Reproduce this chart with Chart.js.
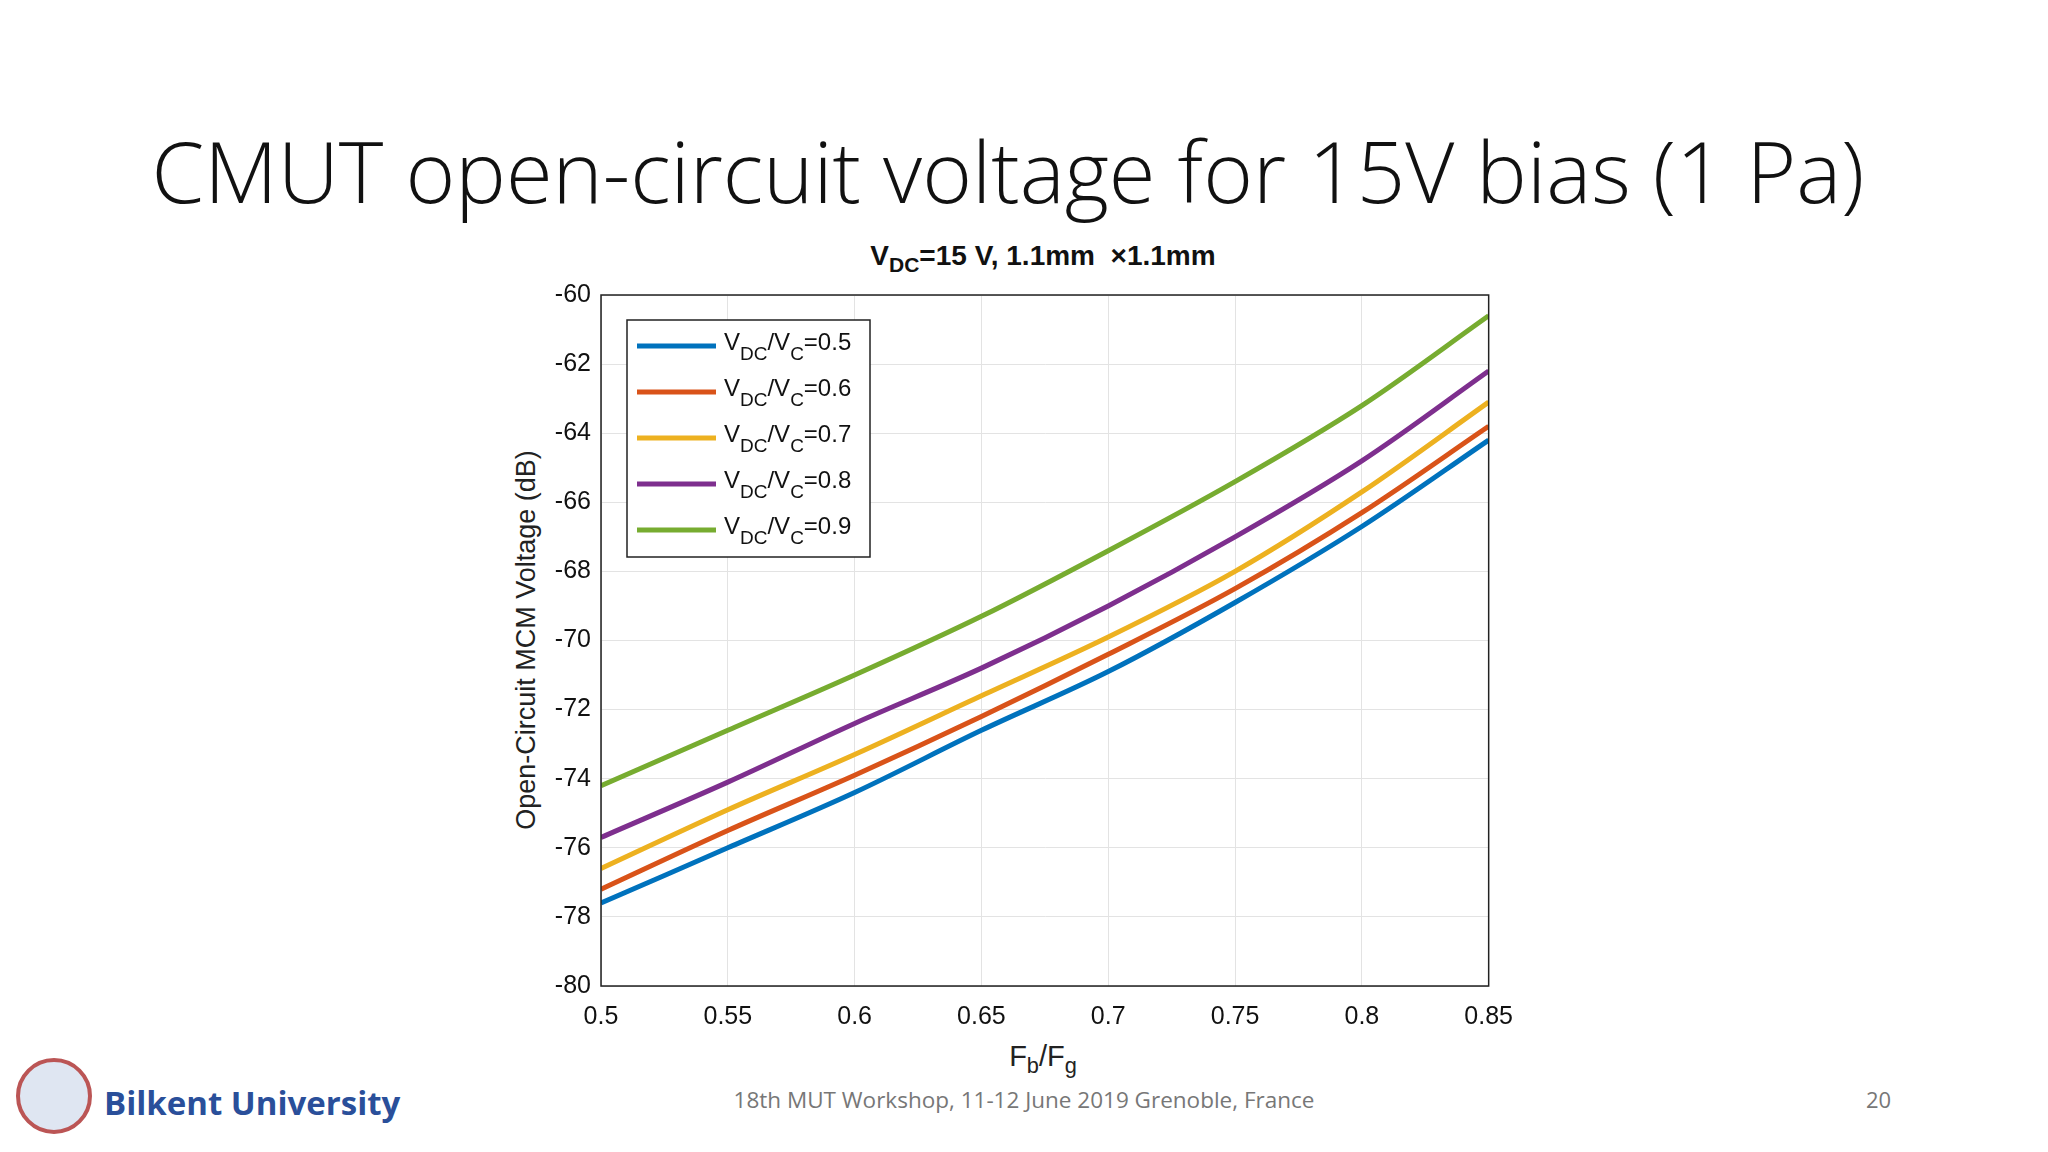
<!DOCTYPE html>
<html>
<head>
<meta charset="utf-8">
<script src="https://cdn.jsdelivr.net/npm/chart.js@4"></script>
<style>
  body { margin: 0; width: 2048px; height: 1152px; background: #fff; position: relative; overflow: hidden; font-family: "Liberation Sans", Arial, sans-serif; }
  .abs { position: absolute; }
  #title { left: -16px; width: 2048px; top: 112px; text-align: center; font-family: "Open Sans", sans-serif; font-weight: 300; font-size: 85px; color: #111; }
  #sub { left: 643px; width: 800px; top: 240px; text-align: center; font-weight: bold; font-size: 28px; color: #111; }
  #ytitle { left: 526px; top: 640px; transform: translate(-50%, -50%) rotate(-90deg); font-size: 27px; color: #222; white-space: nowrap; }
  #xtitle { left: 1043px; top: 1040px; transform: translateX(-50%); font-size: 29px; color: #222; }
  #footer { left: 0; width: 2048px; top: 1084px; text-align: center; font-family: "Open Sans", sans-serif; font-size: 22.5px; color: #777; }
  #page { left: 1866px; top: 1084px; font-family: "Open Sans", sans-serif; font-size: 22px; color: #777; }
  #logo { left: 16px; top: 1058px; width: 76px; height: 76px; border-radius: 50%; border: 4px solid #b55; background: #dfe6f2; box-sizing: border-box; }
  #uni { left: 104px; top: 1080px; font-family: "Open Sans", sans-serif; font-weight: bold; font-size: 33px; color: #2a4f9a; }
  sub { font-size: 0.75em; }
  #wrap { left: 500px; top: 270px; width: 1029px; height: 810px; }
</style>
</head>
<body>
<div id="title" class="abs">CMUT open-circuit voltage for 15V bias (1 Pa)</div>
<div id="sub" class="abs">V<sub>DC</sub>=15 V, 1.1mm &nbsp;×1.1mm</div>
<div id="ytitle" class="abs">Open-Circuit MCM Voltage (dB)</div>
<div id="xtitle" class="abs">F<sub>b</sub>/F<sub>g</sub></div>
<div id="wrap" class="abs"><canvas id="c"></canvas></div>
<div id="logo" class="abs"></div>
<div id="uni" class="abs">Bilkent University</div>
<div id="footer" class="abs">18th MUT Workshop, 11-12 June 2019 Grenoble, France</div>
<div id="page" class="abs">20</div>
<script>
var fb = [0.5, 0.55, 0.6, 0.65, 0.7, 0.75, 0.8, 0.85];
var ratios = ['0.5', '0.6', '0.7', '0.8', '0.9'];
var v05 = [-77.6, -76.0, -74.4, -72.6, -70.9, -68.9, -66.7, -64.2];
var v06 = [-77.2, -75.5, -73.9, -72.2, -70.4, -68.5, -66.3, -63.8];
var v07 = [-76.6, -74.9, -73.3, -71.6, -69.9, -68.0, -65.7, -63.1];
var v08 = [-75.7, -74.1, -72.4, -70.8, -69.0, -67.0, -64.8, -62.2];
var v09 = [-74.2, -72.6, -71.0, -69.3, -67.4, -65.4, -63.2, -60.6];
var series = [v05, v06, v07, v08, v09];
var colors = ['#0072BD', '#D95319', '#EDB120', '#7E2F8E', '#77AC30'];

var datasets = series.map(function (s, i) {
  return {
    label: 'VDC/VC=' + ratios[i],
    data: s.map(function (v, j) { return { x: fb[j], y: v }; }),
    borderColor: colors[i],
    borderWidth: 5,
    pointRadius: 0,
    cubicInterpolationMode: 'monotone',
    fill: false
  };
});

// box around plot + legend inside, MATLAB style
var boxPlugin = {
  id: 'box',
  afterDraw: function (chart) {
    var c = chart.ctx, a = chart.chartArea;
    c.save();
    c.strokeStyle = '#222';
    c.lineWidth = 1.5;
    c.strokeRect(a.left, a.top, a.right - a.left, a.bottom - a.top);
    var lx = a.left + 26, ly = a.top + 25, lw = 243, lh = 237;
    c.fillStyle = '#fff';
    c.fillRect(lx, ly, lw, lh);
    c.strokeRect(lx, ly, lw, lh);
    ratios.forEach(function (r, i) {
      var y = ly + 26 + i * 46;
      c.strokeStyle = colors[i];
      c.lineWidth = 5;
      c.beginPath(); c.moveTo(lx + 10, y); c.lineTo(lx + 89, y); c.stroke();
      c.fillStyle = '#111';
      c.textBaseline = 'middle';
      var x = lx + 97;
      c.font = '24px "Liberation Sans"';
      c.fillText('V', x, y - 3); x += c.measureText('V').width;
      c.font = '19px "Liberation Sans"';
      c.fillText('DC', x, y + 9); x += c.measureText('DC').width;
      c.font = '24px "Liberation Sans"';
      c.fillText('/V', x, y - 3); x += c.measureText('/V').width;
      c.font = '19px "Liberation Sans"';
      c.fillText('C', x, y + 9); x += c.measureText('C').width;
      c.font = '24px "Liberation Sans"';
      c.fillText('=' + r, x, y - 3);
    });
    c.restore();
  }
};

new Chart(document.getElementById('c').getContext('2d'), {
  type: 'line',
  data: { datasets: datasets },
  options: {
    responsive: true,
    maintainAspectRatio: false,
    animation: false,
    layout: { padding: { top: 6, right: 26 } },
    plugins: { legend: { display: false }, tooltip: { enabled: false } },
    scales: {
      x: {
        type: 'linear', min: 0.5, max: 0.85,
        ticks: { stepSize: 0.05, color: '#111', font: { size: 25, family: 'Liberation Sans' }, padding: 16,
          callback: function (v) { return Math.round(v * 100) / 100; } },
        grid: { color: '#e3e3e3', drawTicks: false },
        afterFit: function (s) { s.height = 94; }
      },
      y: {
        min: -80, max: -60,
        ticks: { stepSize: 2, color: '#111', font: { size: 25, family: 'Liberation Sans' }, padding: 10 },
        grid: { color: '#e3e3e3', drawTicks: false },
        afterFit: function (s) { s.width = 101; }
      }
    }
  },
  plugins: [boxPlugin]
});
</script>
</body>
</html>
